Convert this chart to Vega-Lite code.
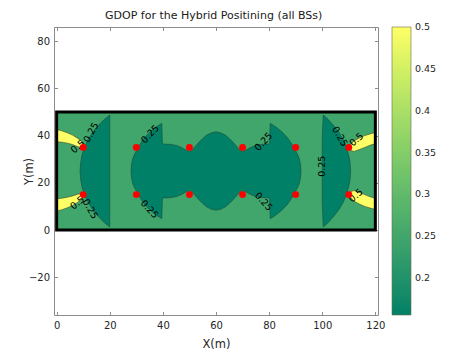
{
  "$schema": "https://vega.github.io/schema/vega-lite/v6.json",
  "autosize": {"type": "none"},
  "width": 324,
  "height": 288,
  "padding": {"left": 54, "top": 27, "right": 96, "bottom": 40},
  "background": "white",
  "title": {"text": "GDOP for the Hybrid Positining (all BSs)", "frame": "group", "anchor": "start", "dx": 51, "fontSize": 11, "fontWeight": "normal", "font": "DejaVu Sans", "color": "#1a1a1a", "offset": 6},
  "datasets": {
    "bg": [{"x": 0, "x2": 120, "y": 0, "y2": 50, "v": 0.25}],
    "sides": [
      {"id": "L", "y": 1.3, "xl": 20.0, "xr": 20.0, "v": 0.156},
      {"id": "L", "y": 3, "xl": 18.1, "xr": 20.0, "v": 0.156},
      {"id": "L", "y": 6, "xl": 15.4, "xr": 20.0, "v": 0.156},
      {"id": "L", "y": 9, "xl": 13.3, "xr": 20.0, "v": 0.156},
      {"id": "L", "y": 12, "xl": 11.7, "xr": 20.0, "v": 0.156},
      {"id": "L", "y": 15, "xl": 10.5, "xr": 20.0, "v": 0.156},
      {"id": "L", "y": 18, "xl": 9.6, "xr": 20.0, "v": 0.156},
      {"id": "L", "y": 21, "xl": 9.1, "xr": 20.0, "v": 0.156},
      {"id": "L", "y": 25, "xl": 8.8, "xr": 20.0, "v": 0.156},
      {"id": "L", "y": 29, "xl": 9.1, "xr": 20.0, "v": 0.156},
      {"id": "L", "y": 32, "xl": 9.6, "xr": 20.0, "v": 0.156},
      {"id": "L", "y": 35, "xl": 10.5, "xr": 20.0, "v": 0.156},
      {"id": "L", "y": 38, "xl": 11.7, "xr": 20.0, "v": 0.156},
      {"id": "L", "y": 41, "xl": 13.3, "xr": 20.0, "v": 0.156},
      {"id": "L", "y": 44, "xl": 15.4, "xr": 20.0, "v": 0.156},
      {"id": "L", "y": 47, "xl": 18.1, "xr": 20.0, "v": 0.156},
      {"id": "L", "y": 48.7, "xl": 20.0, "xr": 20.0, "v": 0.156},
      {"id": "R", "y": 1.3, "xl": 100.4, "xr": 100.4, "v": 0.156},
      {"id": "R", "y": 3, "xl": 100.3, "xr": 102.1, "v": 0.156},
      {"id": "R", "y": 6, "xl": 100.2, "xr": 104.5, "v": 0.156},
      {"id": "R", "y": 9, "xl": 100.1, "xr": 106.5, "v": 0.156},
      {"id": "R", "y": 12, "xl": 100.0, "xr": 108.0, "v": 0.156},
      {"id": "R", "y": 15, "xl": 100.0, "xr": 109.1, "v": 0.156},
      {"id": "R", "y": 18, "xl": 100.0, "xr": 109.9, "v": 0.156},
      {"id": "R", "y": 21, "xl": 100.0, "xr": 110.45, "v": 0.156},
      {"id": "R", "y": 25, "xl": 100.0, "xr": 110.7, "v": 0.156},
      {"id": "R", "y": 29, "xl": 100.0, "xr": 110.45, "v": 0.156},
      {"id": "R", "y": 32, "xl": 100.0, "xr": 109.9, "v": 0.156},
      {"id": "R", "y": 35, "xl": 100.0, "xr": 109.1, "v": 0.156},
      {"id": "R", "y": 38, "xl": 100.0, "xr": 108.0, "v": 0.156},
      {"id": "R", "y": 41, "xl": 100.1, "xr": 106.5, "v": 0.156},
      {"id": "R", "y": 44, "xl": 100.2, "xr": 104.5, "v": 0.156},
      {"id": "R", "y": 47, "xl": 100.3, "xr": 102.1, "v": 0.156},
      {"id": "R", "y": 48.7, "xl": 100.4, "xr": 100.4, "v": 0.156}
    ],
    "blob": [
      {"x": 28.0, "yu": 25.0, "yl": 25.0, "v": 0.156},
      {"x": 28.2, "yu": 28.0, "yl": 22.0, "v": 0.156},
      {"x": 28.7, "yu": 30.5, "yl": 19.5, "v": 0.156},
      {"x": 29.5, "yu": 32.5, "yl": 17.5, "v": 0.156},
      {"x": 30.5, "yu": 34.5, "yl": 15.5, "v": 0.156},
      {"x": 31.5, "yu": 36.5, "yl": 13.5, "v": 0.156},
      {"x": 33.0, "yu": 39.0, "yl": 11.0, "v": 0.156},
      {"x": 35.2, "yu": 41.6, "yl": 8.4, "v": 0.156},
      {"x": 37.5, "yu": 43.7, "yl": 6.3, "v": 0.156},
      {"x": 39.6, "yu": 45.2, "yl": 4.8, "v": 0.156},
      {"x": 39.8, "yu": 37.0, "yl": 13.0, "v": 0.156},
      {"x": 40.2, "yu": 36.4, "yl": 13.6, "v": 0.156},
      {"x": 42.7, "yu": 36.3, "yl": 13.7, "v": 0.156},
      {"x": 45.2, "yu": 35.8, "yl": 14.2, "v": 0.156},
      {"x": 47.2, "yu": 34.8, "yl": 15.2, "v": 0.156},
      {"x": 48.8, "yu": 33.8, "yl": 16.2, "v": 0.156},
      {"x": 50.0, "yu": 33.3, "yl": 16.7, "v": 0.156},
      {"x": 51.0, "yu": 33.8, "yl": 16.2, "v": 0.156},
      {"x": 52.0, "yu": 35.2, "yl": 14.8, "v": 0.156},
      {"x": 53.4, "yu": 37.0, "yl": 13.0, "v": 0.156},
      {"x": 55.0, "yu": 38.8, "yl": 11.2, "v": 0.156},
      {"x": 56.5, "yu": 40.2, "yl": 9.8, "v": 0.156},
      {"x": 58.3, "yu": 41.2, "yl": 8.8, "v": 0.156},
      {"x": 60.0, "yu": 41.6, "yl": 8.4, "v": 0.156},
      {"x": 61.7, "yu": 41.2, "yl": 8.8, "v": 0.156},
      {"x": 63.5, "yu": 40.2, "yl": 9.8, "v": 0.156},
      {"x": 65.0, "yu": 38.8, "yl": 11.2, "v": 0.156},
      {"x": 66.6, "yu": 37.0, "yl": 13.0, "v": 0.156},
      {"x": 68.0, "yu": 35.2, "yl": 14.8, "v": 0.156},
      {"x": 69.0, "yu": 33.8, "yl": 16.2, "v": 0.156},
      {"x": 70.0, "yu": 33.3, "yl": 16.7, "v": 0.156},
      {"x": 71.2, "yu": 33.8, "yl": 16.2, "v": 0.156},
      {"x": 72.8, "yu": 34.8, "yl": 15.2, "v": 0.156},
      {"x": 74.8, "yu": 35.8, "yl": 14.2, "v": 0.156},
      {"x": 77.3, "yu": 36.3, "yl": 13.7, "v": 0.156},
      {"x": 79.8, "yu": 36.4, "yl": 13.6, "v": 0.156},
      {"x": 80.2, "yu": 37.0, "yl": 13.0, "v": 0.156},
      {"x": 80.4, "yu": 45.2, "yl": 4.8, "v": 0.156},
      {"x": 82.5, "yu": 43.7, "yl": 6.3, "v": 0.156},
      {"x": 84.8, "yu": 41.6, "yl": 8.4, "v": 0.156},
      {"x": 87.0, "yu": 39.0, "yl": 11.0, "v": 0.156},
      {"x": 88.5, "yu": 36.5, "yl": 13.5, "v": 0.156},
      {"x": 89.5, "yu": 34.5, "yl": 15.5, "v": 0.156},
      {"x": 90.5, "yu": 32.5, "yl": 17.5, "v": 0.156},
      {"x": 91.3, "yu": 30.5, "yl": 19.5, "v": 0.156},
      {"x": 91.8, "yu": 28.0, "yl": 22.0, "v": 0.156},
      {"x": 92.0, "yu": 25.0, "yl": 25.0, "v": 0.156}
    ],
    "bands": [
      {"id": "UL", "x": 0, "yl": 37.4, "yu": 42.6, "v": 0.5},
      {"id": "UL", "x": 2, "yl": 37.2, "yu": 42.0, "v": 0.5},
      {"id": "UL", "x": 4, "yl": 36.8, "yu": 41.2, "v": 0.5},
      {"id": "UL", "x": 6, "yl": 36.2, "yu": 40.2, "v": 0.5},
      {"id": "UL", "x": 8, "yl": 35.3, "yu": 38.8, "v": 0.5},
      {"id": "UL", "x": 9.3, "yl": 35.0, "yu": 37.6, "v": 0.5},
      {"id": "UL", "x": 10, "yl": 35.5, "yu": 35.9, "v": 0.5},
      {"id": "LL", "x": 0, "yl": 8.0, "yu": 13.2, "v": 0.5},
      {"id": "LL", "x": 2, "yl": 8.6, "yu": 13.5, "v": 0.5},
      {"id": "LL", "x": 4, "yl": 9.4, "yu": 13.9, "v": 0.5},
      {"id": "LL", "x": 6, "yl": 10.4, "yu": 14.4, "v": 0.5},
      {"id": "LL", "x": 8, "yl": 11.8, "yu": 15.2, "v": 0.5},
      {"id": "LL", "x": 9.3, "yl": 13.0, "yu": 15.4, "v": 0.5},
      {"id": "LL", "x": 10, "yl": 14.3, "yu": 14.9, "v": 0.5},
      {"id": "UR", "x": 110.3, "yl": 34.6, "yu": 35.4, "v": 0.5},
      {"id": "UR", "x": 111, "yl": 33.6, "yu": 36.6, "v": 0.5},
      {"id": "UR", "x": 112, "yl": 33.3, "yu": 37.8, "v": 0.5},
      {"id": "UR", "x": 114, "yl": 34.1, "yu": 39.0, "v": 0.5},
      {"id": "UR", "x": 116, "yl": 35.0, "yu": 40.0, "v": 0.5},
      {"id": "UR", "x": 118, "yl": 35.9, "yu": 40.7, "v": 0.5},
      {"id": "UR", "x": 120, "yl": 36.6, "yu": 41.3, "v": 0.5},
      {"id": "LR", "x": 110.3, "yl": 14.6, "yu": 15.4, "v": 0.5},
      {"id": "LR", "x": 111, "yl": 13.4, "yu": 16.4, "v": 0.5},
      {"id": "LR", "x": 112, "yl": 12.2, "yu": 16.7, "v": 0.5},
      {"id": "LR", "x": 114, "yl": 11.0, "yu": 15.9, "v": 0.5},
      {"id": "LR", "x": 116, "yl": 10.0, "yu": 15.0, "v": 0.5},
      {"id": "LR", "x": 118, "yl": 9.3, "yu": 14.1, "v": 0.5},
      {"id": "LR", "x": 120, "yl": 8.7, "yu": 13.4, "v": 0.5}
    ],
    "labels": [
      {"g": "a", "x": 13.0, "y": 41.3, "text": "0.25"},
      {"g": "b", "x": 35.2, "y": 40.6, "text": "0.25"},
      {"g": "b", "x": 77.9, "y": 37.4, "text": "0.25"},
      {"g": "c", "x": 12.6, "y": 8.9, "text": "0.25"},
      {"g": "c", "x": 106.6, "y": 39.6, "text": "0.25"},
      {"g": "d", "x": 34.9, "y": 8.8, "text": "0.25"},
      {"g": "d", "x": 77.9, "y": 12.0, "text": "0.25"},
      {"g": "e", "x": 100.1, "y": 27.0, "text": "0.25"},
      {"g": "f", "x": 8.0, "y": 35.3, "text": "0.5"},
      {"g": "f", "x": 7.8, "y": 11.5, "text": "0.5"},
      {"g": "f", "x": 112.9, "y": 38.3, "text": "0.5"},
      {"g": "f", "x": 112.7, "y": 14.6, "text": "0.5"}
    ],
    "bs": [
      {"x": 10, "y": 35}, {"x": 30, "y": 35}, {"x": 50, "y": 35}, {"x": 70, "y": 35}, {"x": 90, "y": 35}, {"x": 110, "y": 35},
      {"x": 10, "y": 15}, {"x": 30, "y": 15}, {"x": 50, "y": 15}, {"x": 70, "y": 15}, {"x": 90, "y": 15}, {"x": 110, "y": 15}
    ]
  },
  "layer": [
    {
      "data": {"name": "bg"},
      "mark": {"type": "rect"},
      "encoding": {
        "x": {"field": "x", "type": "quantitative", "scale": {"domain": [-1, 121], "nice": false, "zero": false},
              "axis": {"orient": "bottom", "values": [0, 20, 40, 60, 80, 100, 120], "title": "X(m)", "labelPadding": 9, "titlePadding": 8}},
        "x2": {"field": "x2"},
        "y": {"field": "y", "type": "quantitative", "scale": {"domain": [-36, 86], "nice": false, "zero": false},
              "axis": {"orient": "left", "values": [-20, 0, 20, 40, 60, 80], "title": "Y(m)", "labelPadding": 8, "titlePadding": -6}},
        "y2": {"field": "y2"},
        "color": {"field": "v", "type": "quantitative", "scale": {"domain": [0.156, 0.5], "range": ["#008066", "#ffff66"]},
                  "legend": {"orient": "none", "legendX": 338, "legendY": 0, "direction": "vertical", "title": null,
                             "values": [0.2, 0.25, 0.3, 0.35, 0.4, 0.45, 0.5], "format": ".2~f", "gradientLength": 288, "gradientThickness": 19,
                             "gradientStrokeColor": "#6b6b4a", "gradientStrokeWidth": 0.6, "labelFontSize": 9.5, "labelFont": "DejaVu Sans",
                             "labelOffset": 4, "labelColor": "#262626", "padding": 0,
                             "encode": {"labels": {"update": {"baseline": {"value": "middle"}}}}}}
      }
    },
    {
      "data": {"name": "sides"},
      "mark": {"type": "area", "orient": "horizontal", "stroke": "#1d4a3c", "strokeWidth": 0.6},
      "encoding": {
        "y": {"field": "y", "type": "quantitative", "axis": null},
        "x": {"field": "xl", "type": "quantitative", "axis": null},
        "x2": {"field": "xr"},
        "detail": {"field": "id"},
        "color": {"field": "v", "type": "quantitative", "scale": {"domain": [0.156, 0.5], "range": ["#008066", "#ffff66"]}}
      }
    },
    {
      "data": {"name": "blob"},
      "mark": {"type": "area", "orient": "vertical", "stroke": "#1d4a3c", "strokeWidth": 0.6},
      "encoding": {
        "x": {"field": "x", "type": "quantitative", "axis": null},
        "y": {"field": "yu", "type": "quantitative", "axis": null},
        "y2": {"field": "yl"},
        "color": {"field": "v", "type": "quantitative", "scale": {"domain": [0.156, 0.5], "range": ["#008066", "#ffff66"]}}
      }
    },
    {
      "data": {"name": "bands"},
      "mark": {"type": "area", "orient": "vertical", "stroke": "#3a4a2a", "strokeWidth": 0.6},
      "encoding": {
        "x": {"field": "x", "type": "quantitative", "axis": null},
        "y": {"field": "yu", "type": "quantitative", "axis": null},
        "y2": {"field": "yl"},
        "detail": {"field": "id"},
        "color": {"field": "v", "type": "quantitative", "scale": {"domain": [0.156, 0.5], "range": ["#008066", "#ffff66"]}}
      }
    },
    {
      "data": {"name": "labels"},
      "transform": [{"filter": "datum.g === 'a'"}],
      "mark": {"type": "text", "angle": -62, "font": "DejaVu Sans", "fontSize": 9.5, "color": "#000"},
      "encoding": {"x": {"field": "x", "type": "quantitative", "axis": null}, "y": {"field": "y", "type": "quantitative", "axis": null}, "text": {"field": "text"}}
    },
    {
      "data": {"name": "labels"},
      "transform": [{"filter": "datum.g === 'b'"}],
      "mark": {"type": "text", "angle": -47, "font": "DejaVu Sans", "fontSize": 9.5, "color": "#000"},
      "encoding": {"x": {"field": "x", "type": "quantitative", "axis": null}, "y": {"field": "y", "type": "quantitative", "axis": null}, "text": {"field": "text"}}
    },
    {
      "data": {"name": "labels"},
      "transform": [{"filter": "datum.g === 'c'"}],
      "mark": {"type": "text", "angle": 60, "font": "DejaVu Sans", "fontSize": 9.5, "color": "#000"},
      "encoding": {"x": {"field": "x", "type": "quantitative", "axis": null}, "y": {"field": "y", "type": "quantitative", "axis": null}, "text": {"field": "text"}}
    },
    {
      "data": {"name": "labels"},
      "transform": [{"filter": "datum.g === 'd'"}],
      "mark": {"type": "text", "angle": 48, "font": "DejaVu Sans", "fontSize": 9.5, "color": "#000"},
      "encoding": {"x": {"field": "x", "type": "quantitative", "axis": null}, "y": {"field": "y", "type": "quantitative", "axis": null}, "text": {"field": "text"}}
    },
    {
      "data": {"name": "labels"},
      "transform": [{"filter": "datum.g === 'e'"}],
      "mark": {"type": "text", "angle": -90, "font": "DejaVu Sans", "fontSize": 9.5, "color": "#000"},
      "encoding": {"x": {"field": "x", "type": "quantitative", "axis": null}, "y": {"field": "y", "type": "quantitative", "axis": null}, "text": {"field": "text"}}
    },
    {
      "data": {"name": "labels"},
      "transform": [{"filter": "datum.g === 'f'"}],
      "mark": {"type": "text", "angle": -40, "font": "DejaVu Sans", "fontSize": 9.5, "color": "#000"},
      "encoding": {"x": {"field": "x", "type": "quantitative", "axis": null}, "y": {"field": "y", "type": "quantitative", "axis": null}, "text": {"field": "text"}}
    },
    {
      "data": {"name": "bg"},
      "mark": {"type": "rect", "filled": false, "stroke": "#000", "strokeWidth": 3},
      "encoding": {
        "x": {"field": "x", "type": "quantitative", "axis": {"orient": "top", "values": [0, 20, 40, 60, 80, 100, 120], "labels": false, "title": null}},
        "x2": {"field": "x2"},
        "y": {"field": "y", "type": "quantitative", "axis": {"orient": "right", "values": [-20, 0, 20, 40, 60, 80], "labels": false, "title": null}},
        "y2": {"field": "y2"}
      }
    },
    {
      "data": {"name": "bs"},
      "mark": {"type": "point", "filled": true, "color": "#ff0000", "size": 48, "opacity": 1},
      "encoding": {"x": {"field": "x", "type": "quantitative", "axis": null}, "y": {"field": "y", "type": "quantitative", "axis": null}}
    }
  ],
  "resolve": {"axis": {"x": "independent", "y": "independent"}},
  "config": {
    "view": {"stroke": null},
    "font": "DejaVu Sans",
    "axis": {"grid": false, "domainColor": "#8c8c8c", "tickColor": "#8c8c8c", "tickSize": -3.5, "labelFont": "DejaVu Sans", "labelFontSize": 10,
             "labelColor": "#262626", "titleFont": "DejaVu Sans", "titleFontSize": 11.5, "titleFontWeight": "normal", "titleColor": "#262626"}
  }
}
